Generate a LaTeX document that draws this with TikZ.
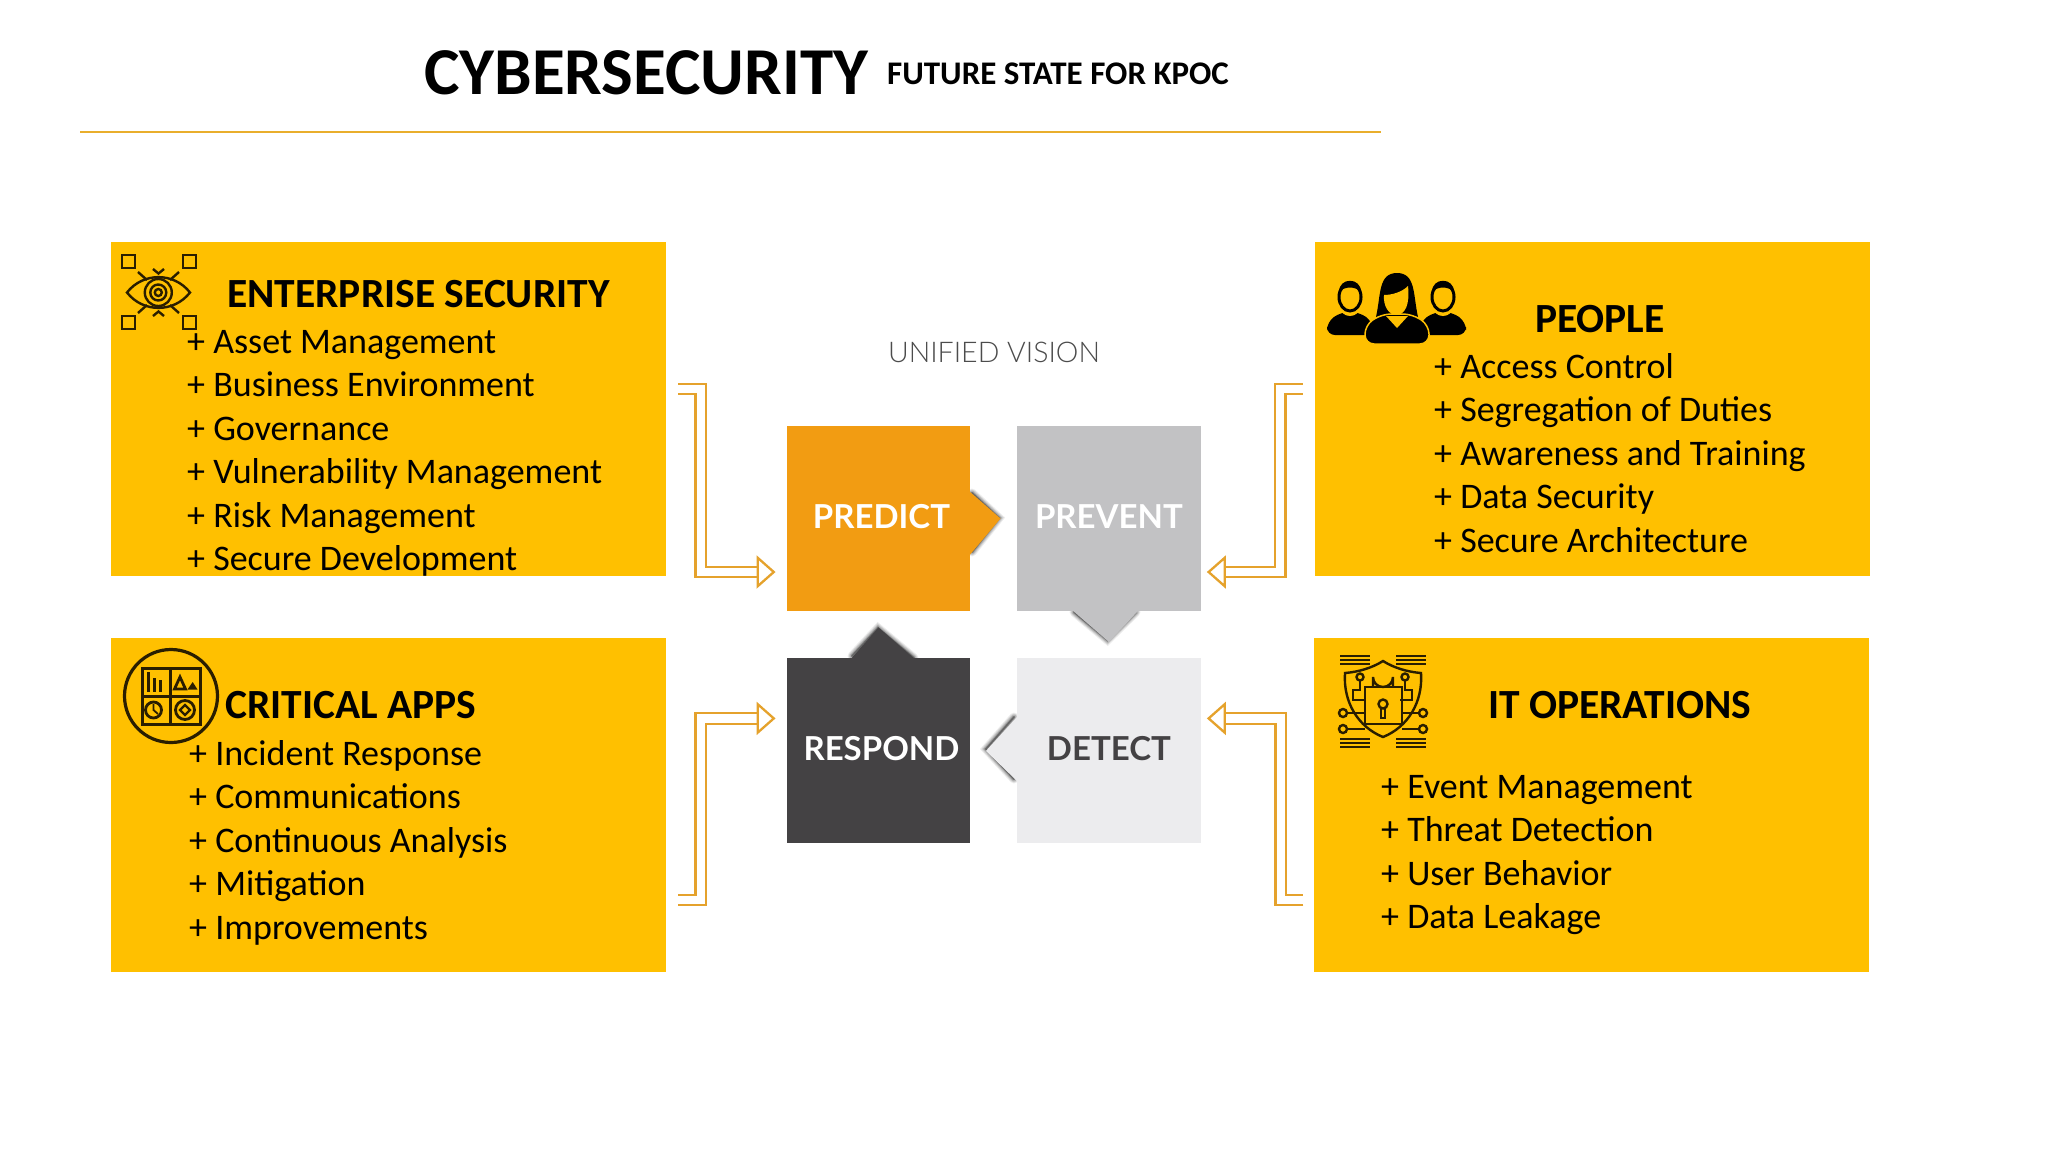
\documentclass[tikz,border=0pt]{standalone}
\usepackage{fontspec}
\setmainfont{Carlito}
\newfontfamily\phasefont{Lato}
\newfontfamily\visionfont{Lato Light}
\usetikzlibrary{positioning}
\usetikzlibrary{arrows.meta}
\definecolor{boxc}{HTML}{FFC000}
\definecolor{rulec}{HTML}{E9AE2C}
\definecolor{flowc}{HTML}{E5A22C}
\definecolor{predictc}{HTML}{F29C12}
\definecolor{preventc}{HTML}{C2C2C4}
\definecolor{respondc}{HTML}{444244}
\definecolor{detectc}{HTML}{ECECEE}
\definecolor{iconc}{HTML}{2A1E00}
\tikzset{
	area/.style={fill=boxc,minimum width=555pt,minimum height=334pt,inner sep=0},
	phase/.style={minimum width=183.5pt,minimum height=184.5pt,inner sep=0,font=\phasefont\bfseries\fontsize{33}{38}\selectfont},
	heading/.style={font=\bfseries\fontsize{41.5}{48}\selectfont,anchor=west,inner sep=0},
	listtext/.style={font=\fontsize{36}{43.5}\selectfont,align=left,anchor=north west,inner sep=0},
	flowarrow/.style={draw=flowc,line width=2.3pt,double=white,double distance=8.2pt,
		-{Triangle[fill=white,length=19pt,width=33pt,line width=2.3pt]}},
	icon/.style={draw=iconc,line width=2.4pt},
}
\newcommand{\blurline}[3]{
	\foreach \w/\o in {9/.07,7/.1,5/.14,3/.2,1.5/.3}
		\draw[black,opacity=\o,line width=\w pt,line cap=round] #1 -- #2 -- #3;
}
\begin{document}
\begin{tikzpicture}[x=1pt,y=-1pt]
	\fill[white] (0,0) rectangle (2048,1152);
	\useasboundingbox (0,0) rectangle (2048,1152);
	% title
	\node[anchor=base west,inner sep=0,font=\bfseries\fontsize{67}{74}\selectfont] (title) at (424,94) {CYBERSECURITY};
	\node[anchor=base west,inner sep=0,font=\bfseries\fontsize{33}{40}\selectfont] (subtitle) at (887,84) {FUTURE STATE FOR KPOC};
	\coordinate (ruleleft) at (80,132);
	\coordinate (ruleright) at (1381,132);
	\draw[rulec,line width=2pt] (ruleleft) -- (ruleright);
	% yellow areas
	\node[area] (entbox) at (388.5,409) {};
	\node[area] (peoplebox) at (1592.5,409) {};
	\node[area] (appsbox) at (388.5,804.5) {};
	\node[area] (itbox) at (1591.5,804.5) {};
	\node[heading] (enthead) at (227,294) {ENTERPRISE SECURITY};
	\node[listtext] (entlist) at (187,330) {+ Asset Management\\+ Business Environment\\+ Governance\\+ Vulnerability Management\\+ Risk Management\\+ Secure Development};
	\node[heading] (peoplehead) at (1535,319) {PEOPLE};
	\node[listtext] (peoplelist) at (1434,353) {+ Access Control\\+ Segregation of Duties\\+ Awareness and Training\\+ Data Security\\+ Secure Architecture};
	\node[heading] (appshead) at (225,705) {CRITICAL APPS};
	\node[listtext] (appslist) at (189,740) {+ Incident Response\\+ Communications\\+ Continuous Analysis\\+ Mitigation\\+ Improvements};
	\node[heading] (ithead) at (1488,705) {IT OPERATIONS};
	\node[listtext] (itlist) at (1381,775) {+ Event Management\\+ Threat Detection\\+ User Behavior\\+ Data Leakage};
	% centre
	\node[font=\visionfont\fontsize{28.5}{34}\selectfont,text=black!70] (vision) at (994,352) {UNIFIED VISION};
	\node[phase] (predict) at (878.5,518.5) {};
	\node[phase,right=46.5pt of predict] (prevent) {};
	\node[phase,below=47.5pt of predict] (respond) {};
	\node[phase,right=46.5pt of respond] (detect) {};
	% pointers
	\blurline{(972,493)}{(999,518)}{(972,552)}
	\blurline{(1074,612)}{(1107.5,640)}{(1136,612)}
	\blurline{(852,656)}{(878,628)}{(914,658)}
	\blurline{(1014,717)}{(986,749)}{(1014,779)}
	\fill[predictc] ([xshift=-2pt,yshift=28pt]predict.east) -- ([xshift=30pt]predict.east) -- ([xshift=-2pt,yshift=-38pt]predict.east) -- cycle;
	\fill[preventc] ([xshift=-38pt,yshift=2pt]prevent.south) -- ([yshift=-31pt]prevent.south) -- ([xshift=31pt,yshift=2pt]prevent.south) -- cycle;
	\fill[respondc] ([xshift=-29pt,yshift=-2pt]respond.north) -- ([yshift=31pt]respond.north) -- ([xshift=38pt,yshift=-2pt]respond.north) -- cycle;
	\fill[detectc] ([xshift=2pt,yshift=36pt]detect.west) -- ([xshift=-31pt]detect.west) -- ([xshift=2pt,yshift=-32pt]detect.west) -- cycle;
	\fill[predictc] (predict.north west) rectangle (predict.south east);
	\fill[preventc] (prevent.north west) rectangle (prevent.south east);
	\fill[respondc] (respond.north west) rectangle (respond.south east);
	\fill[detectc] (detect.north west) rectangle (detect.south east);
	\node[phase,text=white] (predictlabel) at ([xshift=3pt,yshift=2pt]predict.center) {PREDICT};
	\node[phase,text=white] (preventlabel) at ([yshift=2pt]prevent.center) {PREVENT};
	\node[phase,text=white] (respondlabel) at ([xshift=3pt,yshift=2pt]respond.center) {RESPOND};
	\node[phase,text=respondc] (detectlabel) at ([yshift=2pt]detect.center) {DETECT};
	% connectors
	\coordinate (entout) at ([xshift=12pt,yshift=20pt]entbox.east);
	\coordinate (peopleout) at ([xshift=-12pt,yshift=20pt]peoplebox.west);
	\coordinate (appsout) at ([xshift=12pt,yshift=-95.5pt]appsbox.east);
	\coordinate (itout) at ([xshift=-10.5pt,yshift=-95.5pt]itbox.west);
	\coordinate (predin) at ([xshift=-11pt,yshift=-53.5pt]predict.west);
	\coordinate (previn) at ([xshift=6pt,yshift=-53.5pt]prevent.east);
	\coordinate (respin) at ([xshift=-11pt,yshift=32.5pt]respond.west);
	\coordinate (detin) at ([xshift=6pt,yshift=32.5pt]detect.east);
	\draw[flowarrow] (entout) -- ++(22.5,0) |- (predin);
	\draw[flowarrow] (peopleout) -- ++(-22.5,0) |- (previn);
	\draw[flowarrow] (appsout) -- ++(22.5,0) |- (respin);
	\draw[flowarrow] (itout) -- ++(-22.5,0) |- (detin);
	% eye icon
	\foreach \x/\y in {122/255,183/255,122/316,183/316}
		\draw[icon] (\x,\y) rectangle ++(13,13);
	\draw[icon] (127,292.5) .. controls (143,272) and (174,272) .. (190,292.5) .. controls (174,313) and (143,313) .. (127,292.5) -- cycle;
	\foreach \r in {13.5,8,3.5}
		\draw[icon] (158.3,292.5) circle (\r);
	\draw[icon] (153,269) -- (158.5,273.5) -- (164,269);
	\draw[icon] (153,316) -- (158.5,311.5) -- (164,316);
	\draw[icon] (138,272) -- (147,280);
	\draw[icon] (179,272) -- (170,280);
	\draw[icon] (138,313) -- (147,305);
	\draw[icon] (179,313) -- (170,305);
	% people icon
	\foreach \x in {1350,1443}{
		\fill[black,rounded corners=8pt] (\x-23,335) -- (\x-23,322) -- (\x-9,312) -- (\x+9,312) -- (\x+23,322) -- (\x+23,335) -- cycle;
		\fill[boxc] (\x,307) ellipse (10 and 9);
		\draw[black,fill=boxc,line width=3pt] (\x,297) ellipse (11 and 14);
		\fill[black] (\x-11,292) .. controls (\x-11,277) and (\x+11,277) .. (\x+11,292) .. controls (\x+5,286) and (\x-5,286) .. (\x-11,292) -- cycle;
	}
	\fill[black] (1397,273) .. controls (1378,273) and (1381,295) .. (1376,317) -- (1418,317) .. controls (1413,295) and (1416,273) .. (1397,273) -- cycle;
	\fill[black,draw=boxc,line width=1.5pt,rounded corners=9pt] (1365,344) -- (1365,325) -- (1382,314) -- (1412,314) -- (1429,325) -- (1429,344) -- cycle;
	\fill[boxc] (1384,295) .. controls (1392,295) and (1402,292) .. (1408,286) .. controls (1410,305) and (1405,315) .. (1396,315) .. controls (1389,315) and (1383,306) .. (1384,295) -- cycle;
	\fill[boxc] (1386,316) -- (1397,328) -- (1408,316) -- cycle;
	\fill[black] (1443,317) -- (1446,325) -- (1443,332) -- (1440,325) -- cycle;
	% apps icon
	\draw[icon,line width=3.2pt] (171,696) circle (46.5);
	\draw[icon,line width=3pt] (142,668) rectangle (200,724);
	\draw[icon,line width=3pt] (170,668) -- (170,724);
	\draw[icon,line width=3pt] (142,696) -- (200,696);
	\foreach \x/\y in {148.3/672,154.3/678,160.7/680}
		\draw[icon,line width=2.8pt] (\x,\y) -- (\x,691.5);
	\draw[icon,line width=2.8pt] (180,677) -- (174.5,689) -- (185.5,689) -- cycle;
	\fill[iconc] (192.7,682) -- (187.5,689.5) -- (197.5,689.5) -- cycle;
	\draw[icon,line width=2.8pt] (153.5,710) circle (8);
	\draw[icon,line width=1.8pt] (153.5,704) -- (153.5,710) -- (158,714);
	\draw[icon,line width=2.8pt] (185,710) circle (9.5);
	\draw[icon] (185,705) -- (190,710) -- (185,715) -- (180,710) -- cycle;
	% shield icon
	\foreach \y in {656,660,664}{
		\draw[icon,line width=2pt] (1340,\y) -- (1370,\y);
		\draw[icon,line width=2pt] (1396,\y) -- (1426,\y);
	}
	\foreach \y in {739,743,747}{
		\draw[icon,line width=2pt] (1340,\y) -- (1370,\y);
		\draw[icon,line width=2pt] (1396,\y) -- (1426,\y);
	}
	\draw[icon,fill=boxc] (1383,661) .. controls (1372,668) and (1358,672) .. (1345,673) .. controls (1343,702) and (1358,727) .. (1383,737) .. controls (1408,727) and (1423,702) .. (1421,673) .. controls (1408,672) and (1394,668) .. (1383,661) -- cycle;
	\draw[icon] (1373,687) -- (1373,677) arc (180:0:10) -- (1393,687);
	\draw[icon] (1365,687) rectangle (1402,724);
	\draw[icon] (1383,704) circle (4.5);
	\draw[icon] (1381,708) -- (1381,718) -- (1385,718) -- (1385,708);
	\foreach \x/\s in {1360/1,1405/-1}{
		\draw[icon,fill=boxc] (\x,677) circle (3.5);
		\draw[icon] (\x,681) -- (\x,690) -- (\x-\s*7,690) -- (\x-\s*7,700) -- (\x+\s*5,700);
	}
	\foreach \y in {713,729}{
		\draw[icon] (1347,\y) -- (1365,\y);
		\draw[icon] (1419,\y) -- (1402,\y);
		\draw[icon,fill=boxc] (1343,\y) circle (4);
		\draw[icon,fill=boxc] (1423,\y) circle (4);
	}
\end{tikzpicture}
\end{document}
